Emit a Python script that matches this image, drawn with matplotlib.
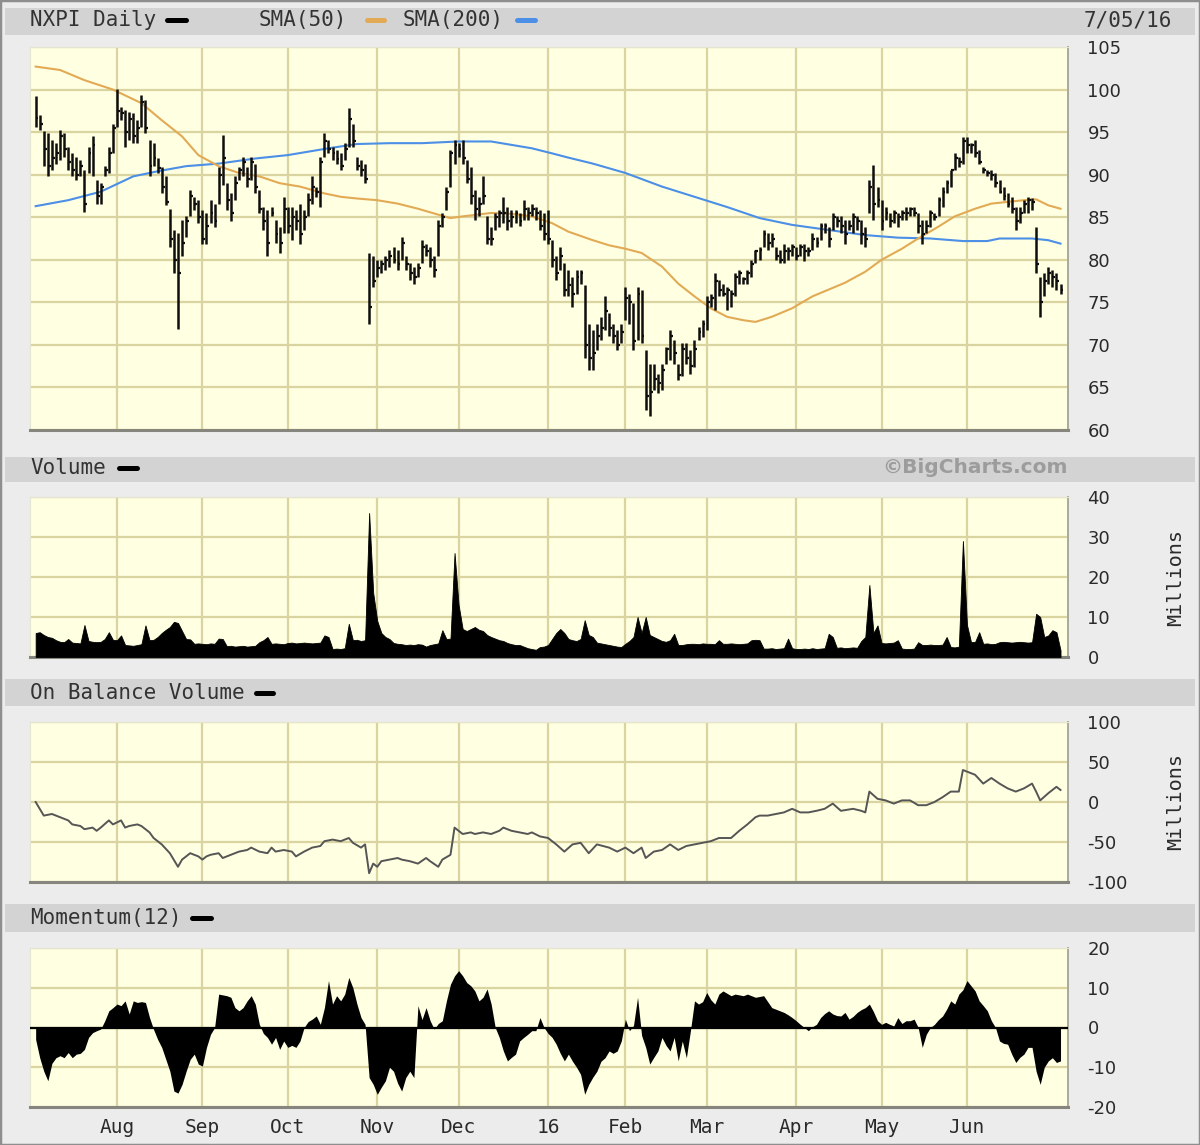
import numpy as np
import pandas as pd
import matplotlib
matplotlib.use("Agg")
import matplotlib.pyplot as plt
from matplotlib.lines import Line2D
from matplotlib.patches import Rectangle

# ---------------------------------------------------------------- calendar
HOLIDAYS = ["2015-09-07", "2015-11-26", "2015-12-25", "2016-01-01",
            "2016-01-18", "2016-02-15", "2016-03-25", "2016-05-30",
            "2016-07-04"]
sessions = pd.bdate_range("2015-07-06", "2016-07-05", freq="C", holidays=HOLIDAYS)

# ---------------------------------------------------------------- daily prices (USD)
high = [
    # Jul 2015
    99.2, 97.0, 95.1, 94.9, 94.1, 93.7, 95.3, 94.9, 93.3, 92.5, 92.1, 91.7, 90.5, 93.3, 94.5, 89.4, 89.0, 91.0, 93.3, 96.0,
    # Aug
    100.1, 98.0, 97.6, 97.4, 97.2, 96.4, 99.4, 98.8, 94.1, 93.7, 91.9, 90.9, 89.8, 86.0, 83.5, 83.1, 84.7, 85.1, 88.2, 87.4, 87.0,
    # Sep
    85.9, 85.5, 87.0, 86.6, 90.9, 94.7, 89.0, 87.8, 89.8, 90.9, 92.1, 90.9, 92.1, 91.3, 88.2, 86.2, 85.9, 86.2, 84.7, 83.9, 87.4,
    # Oct
    86.2, 86.2, 85.9, 86.6, 85.9, 87.8, 89.8, 88.6, 92.1, 94.9, 94.1, 93.3, 92.9, 92.5, 93.7, 97.8, 96.0, 92.1, 91.7, 91.3, 80.8, 80.4,
    # Nov
    80.0, 80.0, 80.4, 81.2, 81.5, 81.2, 82.7, 80.4, 79.6, 79.2, 79.6, 82.3, 81.9, 81.5, 80.4, 84.7, 85.5, 88.6, 92.9, 94.1,
    # Dec
    93.7, 94.1, 91.7, 90.9, 88.2, 87.4, 89.8, 85.1, 83.9, 85.5, 85.9, 87.4, 86.2, 85.9, 85.9, 85.5, 87.0, 86.2, 86.6, 86.2, 85.9, 85.5,
    # Jan 2016
    85.9, 82.3, 80.4, 81.5, 79.6, 78.8, 78.0, 78.8, 78.8, 77.0, 72.5, 71.8, 72.5, 73.3, 75.7, 73.7, 72.5, 71.8, 72.5,
    # Feb
    76.8, 76.0, 74.9, 76.8, 76.4, 69.4, 67.8, 67.8, 66.6, 67.8, 69.8, 71.8, 70.6, 67.8, 70.2, 70.2, 69.4, 70.6, 72.1, 72.9,
    # Mar
    75.7, 76.0, 78.4, 77.6, 77.2, 76.8, 76.4, 78.4, 78.8, 78.0, 78.8, 80.0, 81.2, 81.5, 83.5, 83.1, 83.1, 81.5, 81.2, 81.9, 81.5, 81.9,
    # Apr
    81.5, 81.9, 81.9, 81.5, 83.1, 82.7, 84.3, 84.3, 83.9, 85.5, 85.1, 85.1, 84.7, 84.7, 85.5, 85.1, 84.7, 83.9, 89.4, 91.1, 88.6,
    # May
    87.0, 86.2, 85.5, 85.9, 85.5, 85.9, 86.2, 86.2, 86.2, 85.5, 84.7, 84.7, 85.9, 85.5, 87.4, 88.6, 89.4, 90.6, 92.5, 92.1, 94.4,
    # Jun
    94.4, 93.7, 94.1, 92.9, 90.9, 90.6, 90.6, 90.2, 89.4, 88.6, 87.8, 87.4, 86.2, 86.2, 87.0, 87.4, 87.2, 83.9, 78.0, 78.4, 79.2, 78.8,
    # Jul
    78.4, 77.2,
]
low = [
    95.6, 95.3, 91.0, 89.8, 90.5, 91.3, 91.7, 92.1, 90.5, 89.8, 89.4, 89.8, 85.6, 90.2, 89.8, 86.6, 86.6, 89.8, 90.2, 92.5,
    95.6, 96.4, 93.3, 94.1, 93.7, 93.7, 95.6, 94.9, 89.8, 91.0, 90.2, 87.8, 86.4, 81.5, 78.4, 71.9, 80.4, 82.7, 85.1, 85.9, 84.3,
    81.9, 81.9, 84.3, 83.9, 86.6, 88.8, 85.9, 84.5, 87.0, 89.4, 89.8, 88.6, 89.4, 87.8, 85.5, 83.5, 80.4, 85.1, 82.0, 80.8, 83.1,
    83.1, 82.3, 83.5, 81.9, 83.5, 85.1, 86.6, 87.4, 86.2, 92.1, 92.5, 91.7, 91.3, 90.6, 91.7, 93.3, 93.3, 90.6, 89.8, 89.0, 72.5, 76.8,
    78.0, 78.4, 78.8, 79.2, 79.6, 78.8, 80.0, 78.8, 77.6, 77.2, 78.0, 79.6, 80.4, 79.2, 78.0, 80.4, 83.9, 85.9, 88.6, 91.3,
    92.1, 91.3, 89.0, 86.6, 84.7, 85.1, 86.6, 81.9, 81.7, 83.5, 83.9, 84.3, 83.5, 83.9, 84.3, 84.0, 84.7, 84.7, 85.1, 84.7, 83.5, 82.3,
    81.9, 79.2, 77.6, 78.8, 75.7, 75.7, 74.5, 76.0, 77.2, 68.5, 67.0, 67.0, 69.4, 70.6, 71.8, 71.0, 70.2, 69.4, 70.2,
    72.9, 72.5, 69.4, 70.6, 70.2, 62.4, 61.6, 64.7, 64.3, 64.7, 67.8, 68.2, 67.8, 65.9, 66.3, 67.8, 66.6, 67.4, 70.6, 70.9,
    71.8, 74.5, 74.1, 75.7, 75.7, 74.1, 74.5, 75.7, 77.2, 77.2, 77.2, 78.0, 79.6, 80.0, 81.5, 81.2, 81.5, 80.0, 79.6, 79.6, 80.0, 80.4,
    80.0, 80.4, 79.9, 80.4, 81.2, 81.5, 82.3, 83.1, 81.5, 83.5, 83.9, 83.1, 81.9, 83.5, 83.1, 83.5, 81.9, 81.5, 85.5, 84.7, 86.2,
    83.5, 84.7, 83.9, 84.3, 83.9, 84.7, 84.7, 85.1, 85.1, 83.1, 81.9, 83.1, 83.9, 84.7, 85.1, 86.2, 87.8, 88.6, 90.6, 90.9, 91.3,
    92.5, 92.5, 92.1, 91.3, 90.2, 89.8, 89.4, 88.6, 87.8, 87.0, 86.2, 85.5, 83.5, 84.3, 85.5, 85.5, 85.9, 78.4, 73.3, 75.7, 77.2, 76.8,
    76.4, 76.0,
]
close = [
    96.6, 96.0, 93.0, 91.0, 92.0, 92.5, 94.5, 93.0, 91.5, 90.5, 90.0, 91.0, 86.5, 92.5, 93.5, 87.5, 88.5, 90.5, 92.5, 95.5,
    97.5, 97.2, 95.0, 96.5, 94.5, 95.5, 98.5, 95.5, 91.0, 92.0, 90.8, 88.5, 86.8, 82.5, 80.0, 78.5, 82.0, 84.5, 87.5, 86.5, 85.0,
    82.5, 84.0, 85.5, 84.5, 90.0, 92.0, 87.0, 85.5, 89.0, 90.5, 91.5, 89.5, 91.5, 88.5, 86.0, 84.5, 82.0, 85.5, 83.0, 82.0, 86.0,
    84.0, 85.0, 84.5, 83.0, 85.0, 87.0, 88.5, 88.0, 91.5, 94.0, 93.0, 92.5, 91.8, 91.0, 93.0, 96.5, 94.0, 91.0, 90.5, 89.5, 74.5, 77.5,
    79.0, 79.5, 80.0, 80.5, 80.0, 79.5, 82.0, 79.5, 78.5, 78.0, 79.0, 81.5, 81.0, 80.0, 78.8, 84.0, 85.0, 88.0, 92.5, 93.5,
    93.0, 92.0, 89.5, 87.5, 86.0, 86.5, 87.5, 82.5, 82.5, 85.0, 85.5, 85.5, 84.5, 85.0, 85.5, 84.5, 86.0, 85.5, 86.0, 85.5, 84.0, 83.0,
    82.5, 80.0, 78.5, 80.5, 76.5, 77.0, 76.0, 78.0, 78.5, 70.0, 68.5, 69.0, 71.0, 72.0, 74.0, 72.0, 71.0, 70.0, 71.5,
    75.5, 75.0, 70.5, 76.0, 71.0, 64.0, 64.5, 66.0, 65.5, 67.0, 69.5, 71.0, 69.0, 66.5, 69.5, 68.5, 67.5, 69.5, 71.5, 72.5,
    75.0, 75.5, 77.5, 76.5, 76.0, 76.5, 76.0, 78.0, 78.5, 77.8, 78.5, 79.5, 81.0, 81.2, 83.0, 82.0, 82.5, 80.5, 80.0, 81.0, 81.0, 81.5,
    80.5, 81.5, 81.0, 81.0, 82.5, 82.0, 84.0, 84.0, 82.5, 85.0, 84.5, 84.0, 83.0, 84.0, 85.0, 84.5, 83.0, 82.5, 88.5, 86.5, 87.0,
    84.5, 85.5, 84.5, 85.5, 85.0, 85.5, 85.5, 86.0, 85.5, 84.0, 83.0, 84.0, 85.5, 85.0, 87.0, 88.0, 89.0, 90.5, 92.0, 91.5, 94.0,
    93.5, 93.5, 92.5, 91.5, 90.5, 90.2, 90.0, 89.0, 88.0, 87.5, 86.5, 86.0, 84.5, 85.5, 86.5, 87.0, 86.8, 79.5, 75.0, 77.5, 78.5, 78.0,
    77.5, 76.5,
]

# ---------------------------------------------------------------- moving averages (sampled sessions)
sma50_day = [0, 6, 12, 19, 26, 31, 36, 40, 45, 50, 55, 60, 65, 71, 75, 79, 84, 89, 94, 99, 102, 105,
             112, 117, 122, 127, 131, 137, 141, 145, 149, 154, 158, 162, 166, 170, 174, 177, 181, 186,
             191, 195, 199, 204, 208, 213, 217, 222, 226, 231, 235, 239, 243, 246, 249, 252]
sma50 = [102.7, 102.3, 101.1, 100.0, 98.4, 96.4, 94.5, 92.3, 91.0, 90.2, 89.8, 89.0, 88.6, 87.8, 87.4,
         87.2, 87.0, 86.6, 86.0, 85.3, 84.9, 85.1, 85.5, 85.4, 85.1, 84.3, 83.3, 82.3, 81.7, 81.3, 80.8,
         79.2, 77.2, 75.7, 74.3, 73.3, 72.9, 72.7, 73.3, 74.3, 75.7, 76.5, 77.3, 78.6, 80.0, 81.3, 82.5,
         83.9, 85.1, 86.0, 86.6, 86.8, 87.0, 87.1, 86.4, 86.0]
sma200_day = [0, 8, 16, 24, 30, 37, 45, 54, 62, 67, 72, 79, 87, 95, 104, 112, 117, 122, 127, 131, 137,
              145, 154, 162, 170, 178, 186, 195, 204, 212, 220, 228, 234, 237, 245, 249, 252]
sma200 = [86.3, 87.0, 88.0, 89.8, 90.4, 91.0, 91.3, 91.9, 92.3, 92.7, 93.1, 93.6, 93.7, 93.7, 93.9, 93.9,
          93.5, 93.1, 92.5, 92.0, 91.3, 90.2, 88.6, 87.4, 86.2, 84.9, 84.1, 83.5, 82.9, 82.6, 82.5, 82.2,
          82.2, 82.5, 82.5, 82.3, 81.9]

# ---------------------------------------------------------------- volume (millions of shares)
volume_m = [
    6.0, 6.2, 5.5, 5.0, 4.8, 4.2, 3.8, 3.7, 4.5, 3.6,
    3.5, 3.4, 8.0, 4.0, 3.8, 3.7, 3.8, 4.5, 6.2, 4.3,
    4.2, 5.4, 3.0, 2.9, 2.8, 3.0, 3.2, 7.9, 4.2, 4.3,
    5.0, 6.0, 6.8, 7.5, 8.8, 8.5, 6.5, 4.5, 4.4, 3.3,
    3.4, 3.3, 3.2, 3.4, 3.3, 4.6, 4.5, 2.7, 2.8, 2.6,
    2.7, 2.8, 2.6, 2.7, 2.8, 3.7, 4.2, 5.0, 3.3, 3.4,
    3.3, 3.2, 3.5, 3.6, 3.4, 3.5, 3.6, 3.5, 3.4, 3.5,
    3.6, 5.4, 5.0, 2.0, 2.1, 2.0, 2.2, 8.3, 4.2, 4.3,
    4.0, 4.2, 36.0, 16.0, 9.0, 6.0, 5.0, 4.5, 3.5, 3.3,
    3.2, 3.0, 3.1, 3.0, 3.2, 3.1, 2.6, 3.0, 3.2, 3.4,
    6.7, 4.5, 4.6, 26.0, 13.0, 7.0, 6.5, 7.0, 7.5, 6.8,
    6.5, 5.5, 5.0, 4.6, 4.2, 4.0, 3.5, 3.2, 3.0, 3.0,
    2.6, 2.2, 2.0, 1.8, 2.5, 2.6, 3.0, 4.5, 6.0, 7.0,
    6.0, 4.5, 4.2, 4.0, 4.5, 9.2, 5.5, 5.0, 3.6, 3.4,
    3.2, 3.0, 2.8, 2.6, 2.5, 3.3, 4.0, 5.0, 10.0, 6.0,
    10.0, 5.5, 5.0, 4.5, 4.0, 3.8, 4.2, 5.8, 3.0, 3.0,
    3.2, 3.3, 3.3, 3.2, 3.4, 3.3, 3.3, 3.2, 4.2, 3.3,
    3.3, 3.4, 3.3, 3.2, 3.3, 3.4, 4.2, 4.3, 4.2, 2.1,
    2.1, 2.2, 2.0, 2.1, 2.2, 4.6, 2.2, 2.0, 2.0, 2.1,
    2.0, 2.2, 2.0, 2.1, 2.2, 5.8, 5.0, 2.3, 2.4, 2.2,
    2.3, 2.4, 2.3, 4.0, 5.0, 18.0, 6.0, 7.9, 3.5, 3.4,
    3.5, 3.6, 4.2, 2.1, 2.0, 2.0, 2.1, 3.7, 3.0, 3.0,
    3.1, 3.0, 3.0, 3.1, 5.0, 2.5, 2.4, 2.6, 29.0, 8.0,
    3.7, 3.8, 6.2, 3.3, 3.4, 3.2, 3.3, 3.7, 3.8, 3.7,
    3.6, 3.7, 3.8, 3.7, 3.6, 3.7, 10.8, 10.0, 5.0, 5.4,
    6.7, 6.2, 1.7,
]

# ---------------------------------------------------------------- on balance volume (millions, sampled sessions)
obv_day = [0, 1, 2, 4, 6, 8, 9, 11, 12, 14, 15, 16, 18, 19, 21, 22, 23, 25, 26, 28, 29, 31, 33, 35, 36,
           38, 40, 41, 42, 43, 45, 46, 48, 50, 52, 53, 55, 57, 58, 59, 61, 63, 64, 66, 68, 70, 71, 73,
           75, 77, 78, 80, 81, 82, 83, 84, 85, 87, 89, 90, 92, 94, 96, 97, 99, 100, 102, 103, 105, 107,
           108, 110, 112, 114, 115, 117, 119, 121, 122, 124, 126, 128, 130, 132, 134, 136, 138, 141,
           143, 145, 147, 149, 150, 152, 154, 156, 158, 160, 162, 164, 166, 168, 171, 173, 175, 177,
           178, 180, 182, 184, 186, 188, 190, 192, 194, 196, 198, 201, 203, 204, 205, 207, 209, 211,
           213, 215, 217, 219, 221, 223, 225, 227, 228, 231, 233, 235, 237, 239, 241, 243, 245, 246,
           247, 249, 251, 252]
obv_m = [0, -8.5, -17, -15, -19, -23, -28, -30, -34, -32, -36, -32, -23, -28, -23, -32, -30, -28, -30,
         -38, -45, -53, -64, -81, -72, -64, -68, -72, -68, -66, -64, -70, -66, -62, -60, -57, -62, -64,
         -57, -62, -60, -62, -68, -62, -57, -55, -49, -47, -49, -45, -51, -57, -53, -89, -77, -81, -74,
         -72, -70, -72, -74, -77, -70, -74, -81, -72, -66, -32, -40, -38, -40, -38, -40, -36, -32, -36,
         -38, -40, -38, -43, -45, -53, -62, -53, -51, -64, -53, -57, -62, -57, -64, -57, -70, -62, -60,
         -53, -60, -55, -53, -51, -49, -45, -45, -36, -28, -19, -17, -17, -15, -13, -8.5, -13, -13, -11,
         -8.5, -2, -11, -8.5, -11, -13, 13, 4, 2, -2, 2, 2, -4, -4, 0, 6, 13, 13, 40, 34, 23, 30, 23, 17,
         13, 17, 23, 13, 2, 11, 19, 15]

# ---------------------------------------------------------------- 12-day momentum (USD)
momentum = [
    -3.0, -7.6, -11.0, -13.4, -9.0, -7.6, -7.1, -7.6, -6.3, -7.6,
    -6.7, -6.5, -5.5, -2.5, -1.3, -0.8, -0.4, 1.7, 4.2, 5.0,
    5.9, 5.5, 6.7, 3.4, 6.7, 6.3, 6.5, 6.3, 2.5, -0.5,
    -3.0, -5.0, -8.0, -11.0, -16.0, -16.5, -14.3, -11.0, -8.0, -6.7,
    -9.2, -9.7, -5.0, -1.7, 0.0, 8.4, 8.2, 8.0, 7.6, 5.0,
    4.2, 5.0, 6.7, 8.0, 5.9, 0.8, -1.5, -2.5, -4.2, -2.5,
    -5.5, -3.4, -5.0, -4.5, -5.0, -3.4, 0.0, 1.5, 2.1, 2.9,
    0.8, 5.0, 11.8, 5.9, 8.0, 6.7, 8.4, 12.6, 10.0, 5.9,
    2.5, 0.8, -12.6, -14.3, -16.8, -15.0, -13.4, -10.0, -11.0, -14.0,
    -16.0, -12.6, -11.0, -12.6, 5.5, 2.0, 5.0, 1.7, -0.4, 1.0,
    1.7, 6.7, 10.9, 13.0, 14.3, 13.0, 11.3, 10.5, 9.2, 6.7,
    7.6, 9.7, 5.9, 0.0, -2.5, -5.9, -8.4, -7.5, -6.7, -3.4,
    -2.5, -1.7, -0.8, -0.8, 2.5, 0.0, -1.5, -2.5, -4.2, -6.5,
    -8.4, -6.7, -8.5, -10.0, -11.8, -16.8, -14.3, -12.5, -11.0, -8.5,
    -7.6, -5.9, -6.5, -5.9, -3.4, 2.1, -0.8, 0.5, 7.6, -2.0,
    -5.0, -9.2, -7.5, -5.9, -2.5, -4.5, -5.9, -2.5, -8.4, -3.4,
    -7.6, -0.8, 6.7, 5.9, 6.5, 8.8, 7.0, 5.9, 8.4, 9.2,
    8.6, 8.0, 8.4, 8.2, 8.0, 8.4, 8.0, 7.6, 7.8, 8.0,
    6.5, 5.0, 4.6, 4.2, 3.8, 3.2, 2.5, 1.7, 0.8, 0.0,
    -0.8, 0.2, 0.8, 2.5, 3.5, 4.2, 3.4, 3.0, 2.9, 3.8,
    2.1, 2.8, 3.8, 4.5, 5.0, 5.9, 4.0, 1.7, 0.8, 1.3,
    0.8, 0.4, 2.5, 1.0, 1.7, 1.7, 2.1, 0.0, -5.0, -1.7,
    0.0, 0.8, 2.0, 2.9, 4.6, 6.7, 5.9, 8.4, 9.5, 11.8,
    10.5, 9.2, 6.7, 5.5, 4.2, 1.7, 0.0, -3.4, -4.0, -4.2,
    -6.7, -8.8, -7.5, -6.7, -5.0, -5.0, -11.0, -14.3, -10.0, -8.4,
    -7.6, -8.8, -8.4,
]

price_ticks = [105, 100, 95, 90, 85, 80, 75, 70, 65, 60]
volume_ticks = [40, 30, 20, 10, 0]
obv_ticks = [100, 50, 0, -50, -100]
momentum_ticks = [20, 10, 0, -10, -20]

# ---------------------------------------------------------------- style
W, H, DPI = 1200, 1145, 100
FIG_BG = "#ececec"
BAND = "#d3d3d3"
PLOT_BG = "#ffffe2"
GRID = "#d9d4a0"
TXT = "#2a2a2a"
ORANGE = "#e2aa55"
BLUE = "#4b8fe6"
MONO = "DejaVu Sans Mono"
SANS = "DejaVu Sans"

n = len(close)
x = np.arange(n)
XMIN, XMAX = -1.39, 253.84

# first session of each month (Aug 2015 .. Jun 2016) for the grid and labels
mkey = sessions.year * 12 + sessions.month
first = np.flatnonzero(np.r_[True, mkey[1:] != mkey[:-1]])
first = first[1:-1]
month_lbl = ["16" if sessions[i].month == 1 else sessions[i].strftime("%b") for i in first]

fig = plt.figure(figsize=(W / DPI, H / DPI), dpi=DPI, facecolor=FIG_BG)


def fx(px):
    return px / W


def fy(py):
    return 1 - py / H


def band(y0, y1):
    fig.add_artist(Rectangle((fx(5), fy(y1)), fx(1195) - fx(5), fy(y0) - fy(y1),
                             transform=fig.transFigure, facecolor=BAND, edgecolor="none", zorder=0))


def dash(x0, x1, y, color):
    fig.add_artist(Line2D([fx(x0), fx(x1)], [fy(y), fy(y)], transform=fig.transFigure,
                          color=color, lw=3.6, solid_capstyle="round", zorder=3))


def panel(x0, y0, x1, y1, yticks, ylim):
    ax = fig.add_axes([fx(x0), fy(y1), fx(x1) - fx(x0), fy(y0) - fy(y1)])
    ax.set_facecolor(PLOT_BG)
    ax.set_xlim(XMIN, XMAX)
    ax.set_ylim(*ylim)
    ax.set_axisbelow(True)
    ax.set_xticks(first)
    ax.set_xticklabels([])
    ax.yaxis.tick_right()
    ax.set_yticks(yticks)
    ax.set_yticklabels([str(t) for t in yticks])
    ax.tick_params(axis="both", length=0)
    ax.tick_params(axis="y", pad=14, labelsize=13, labelcolor=TXT)
    for lab in ax.get_yticklabels():
        lab.set_fontfamily(SANS)
    ax.grid(True, color=GRID, lw=1.6)
    ax.spines["bottom"].set_color("#86867e")
    ax.spines["bottom"].set_linewidth(2.2)
    ax.spines["right"].set_color("#a9a99e")
    ax.spines["right"].set_linewidth(1.4)
    ax.spines["top"].set_color("#e4e4d0")
    ax.spines["left"].set_color("#e4e4d0")
    return ax


# ---------------------------------------------------------------- header bands
band(8, 35)
band(457, 482)
band(679, 706)
band(904, 932)

hdr = dict(family=MONO, fontsize=15, color="#333333", va="center", ha="left")
fig.text(fx(30), fy(20), "NXPI Daily", **hdr)
dash(167, 186, 20, "black")
fig.text(fx(259), fy(20), "SMA(50)", **hdr)
dash(367, 384, 20, ORANGE)
fig.text(fx(403), fy(20), "SMA(200)", **hdr)
dash(517, 535, 20, BLUE)
fig.text(fx(1084), fy(20), "7/05/16", **hdr)

fig.text(fx(30), fy(468), "Volume", **hdr)
dash(119, 137, 468, "black")
fig.text(fx(1068), fy(468), "\u00a9BigCharts.com", family=SANS, fontweight="bold",
         fontsize=14.5, color="#9c9c9c", ha="right", va="center")

fig.text(fx(30), fy(693), "On Balance Volume", **hdr)
dash(256, 273, 693, "black")

fig.text(fx(30), fy(918), "Momentum(12)", **hdr)
dash(192, 211, 918, "black")

# ---------------------------------------------------------------- price panel
axp = panel(30, 47, 1068, 430, price_ticks, (60, 105))
axp.plot(sma200_day, sma200, color=BLUE, lw=1.5, zorder=2)
axp.plot(sma50_day, sma50, color=ORANGE, lw=1.5, zorder=2)
axp.vlines(x, low, high, color="#0e0e0e", lw=1.8, zorder=3)
axp.hlines(close, x, x + 0.7, color="#0e0e0e", lw=1.6, zorder=3)

# ---------------------------------------------------------------- volume panel
axv = panel(30, 497, 1068, 657, volume_ticks, (0, 40))
axv.fill_between(x, 0, volume_m, color="black", lw=0.6, edgecolor="black", zorder=3)
fig.text(fx(1176), fy(577), "Millions", family=MONO, fontsize=14.5, color=TXT,
         rotation=90, ha="center", va="center")

# ---------------------------------------------------------------- on balance volume panel
axo = panel(30, 722, 1068, 882, obv_ticks, (-100, 100))
axo.plot(obv_day, obv_m, color="#555555", lw=1.4, zorder=3)
fig.text(fx(1176), fy(802), "Millions", family=MONO, fontsize=14.5, color=TXT,
         rotation=90, ha="center", va="center")

# ---------------------------------------------------------------- momentum panel
axm = panel(30, 948, 1068, 1107, momentum_ticks, (-20, 20))
axm.fill_between(x, 0, momentum, color="black", lw=0, zorder=3)
axm.axhline(0, color="black", lw=1.6, zorder=4)
axm.set_xticklabels(month_lbl)
axm.tick_params(axis="x", pad=8, labelsize=14, labelcolor=TXT)
for lab in axm.get_xticklabels():
    lab.set_fontfamily(MONO)

# outer frame
fig.add_artist(Rectangle((0, 0), 1, 1, transform=fig.transFigure, fill=False,
                         edgecolor="#8e8e8e", lw=2.5))

fig.savefig("out.png", dpi=DPI, facecolor=FIG_BG)
